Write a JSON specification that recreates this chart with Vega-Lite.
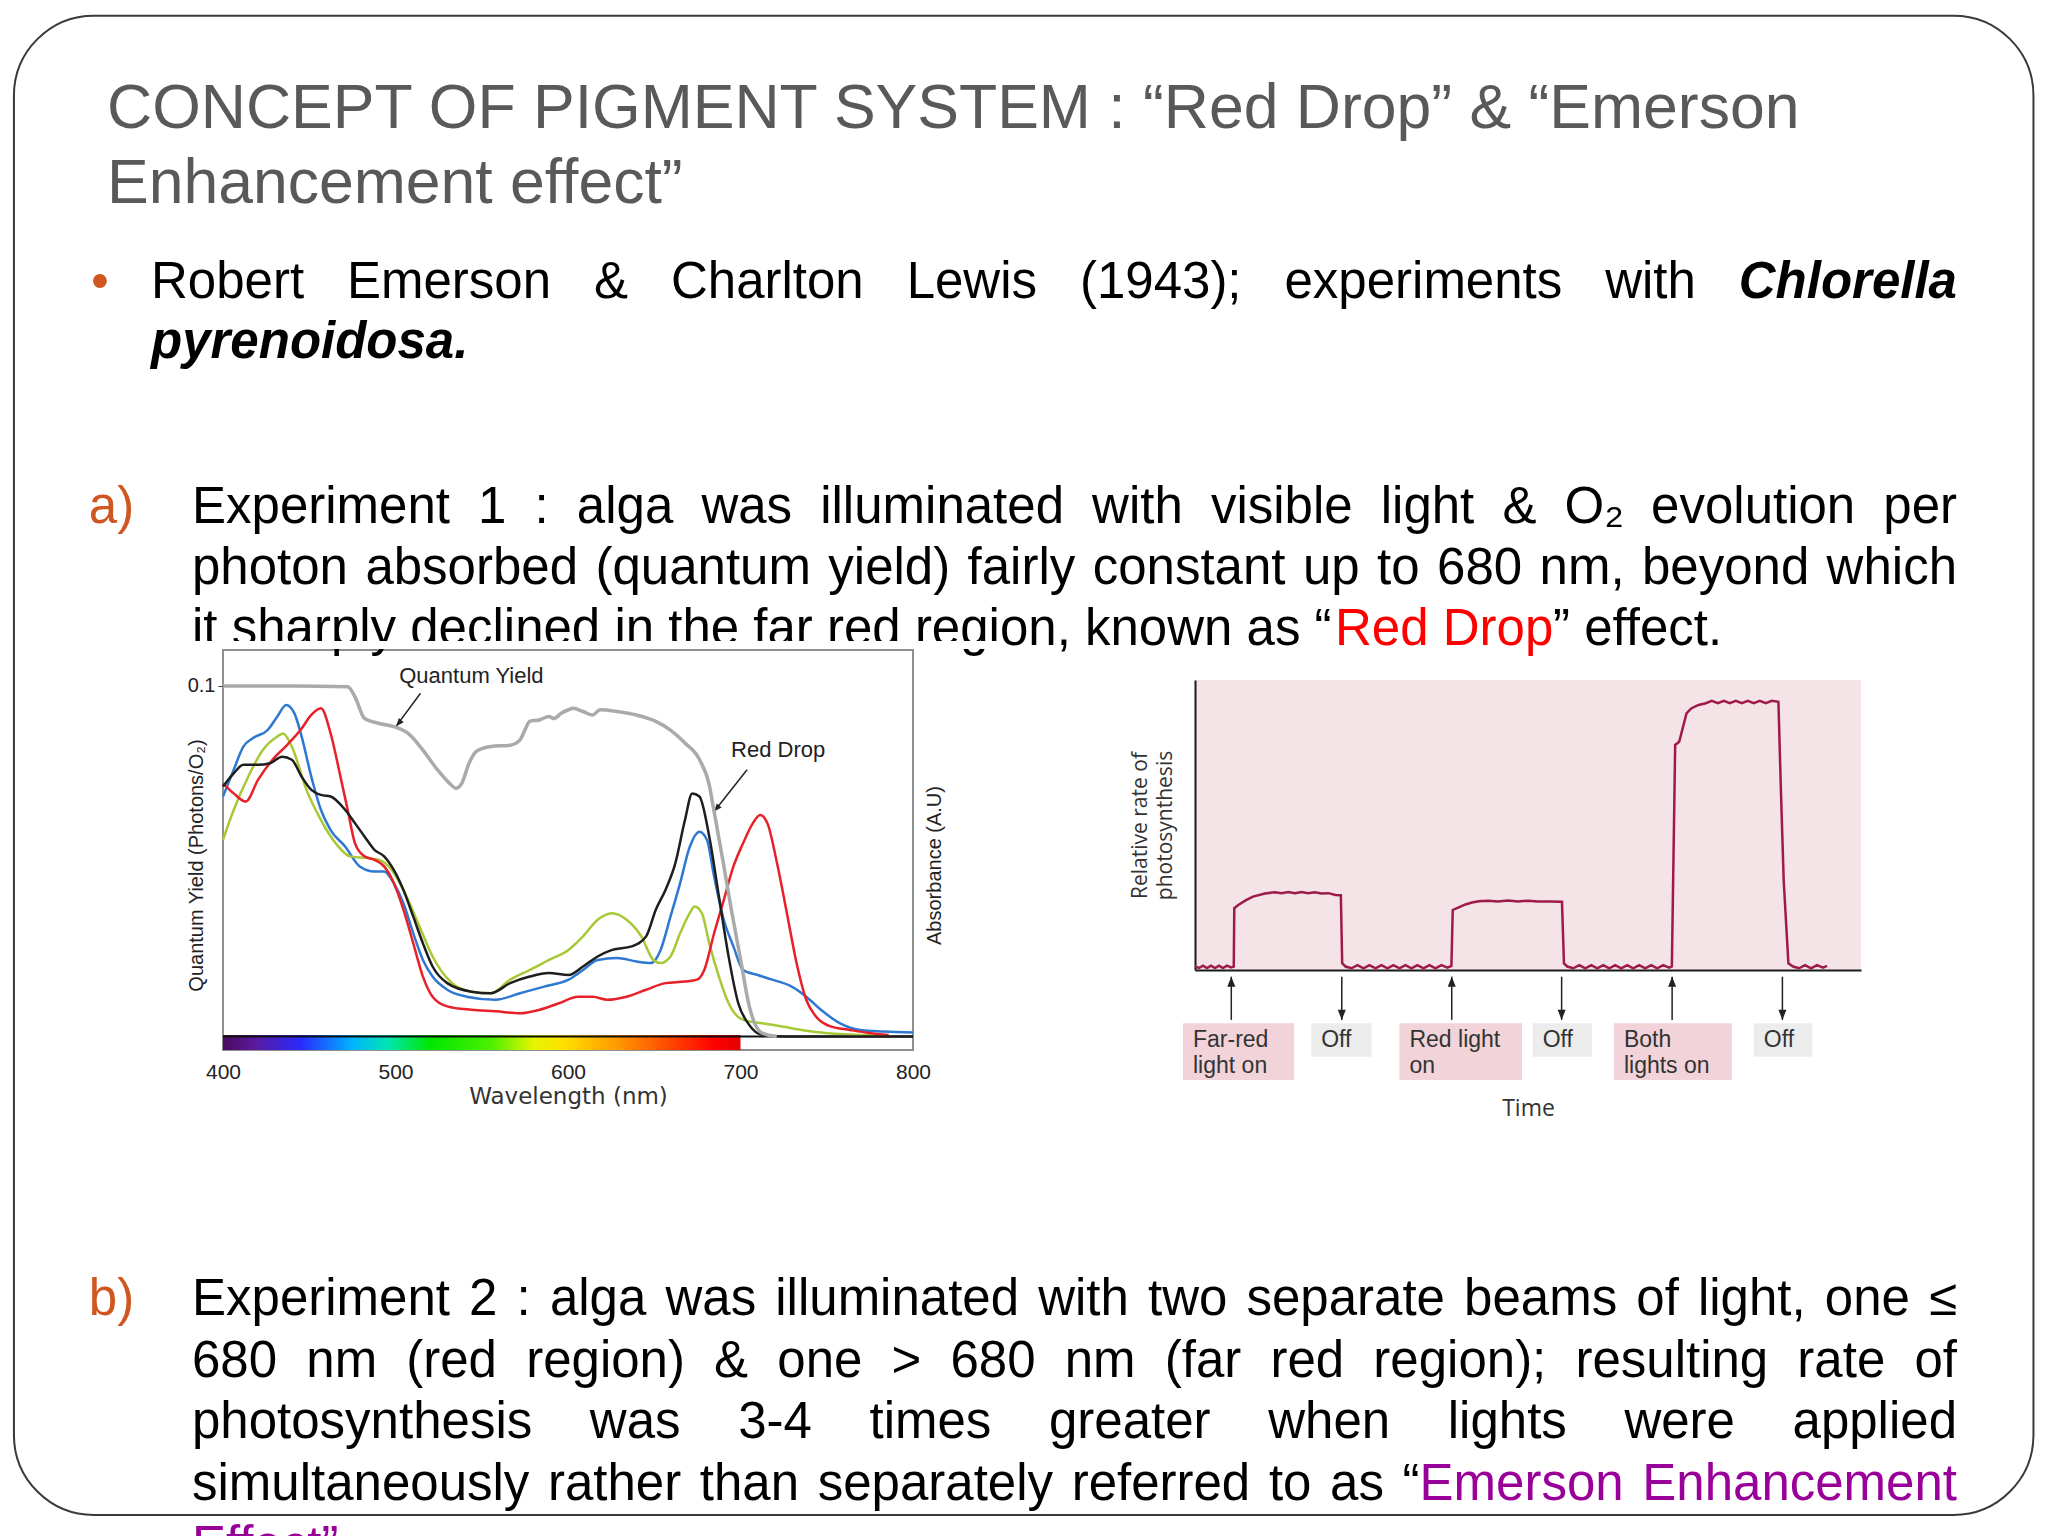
{
  "$schema": "https://vega.github.io/schema/vega-lite/v6.json",
  "background": "white",
  "padding": 0,
  "spacing": 0,
  "bounds": "flush",
  "resolve": {"scale": {"color": "independent"}},
  "config": {
    "view": {"stroke": null},
    "text": {"font": "Liberation Sans", "fontSize": 51, "baseline": "alphabetic"},
    "axis": {"grid": false}
  },
  "datasets": {
    "title": [
      {"line": 1, "pos": 0, "text": "CONCEPT OF PIGMENT SYSTEM : “Red Drop” & “Emerson"},
      {"line": 2, "pos": 0, "text": "Enhancement effect”"}
    ],
    "para": [
      {"line": 1, "pos": -0.02824, "anchor": "middle", "role": "bullet", "text": "•"},
      {"line": 1, "pos": 0, "anchor": "start", "role": "body", "text": "Robert"},
      {"line": 1, "pos": 0.10853, "anchor": "start", "role": "body", "text": "Emerson"},
      {"line": 1, "pos": 0.24529, "anchor": "start", "role": "body", "text": "&"},
      {"line": 1, "pos": 0.28791, "anchor": "start", "role": "body", "text": "Charlton"},
      {"line": 1, "pos": 0.41841, "anchor": "start", "role": "body", "text": "Lewis"},
      {"line": 1, "pos": 0.51437, "anchor": "start", "role": "body", "text": "(1943);"},
      {"line": 1, "pos": 0.62762, "anchor": "start", "role": "body", "text": "experiments"},
      {"line": 1, "pos": 0.80519, "anchor": "start", "role": "body", "text": "with"},
      {"line": 1, "pos": 1, "anchor": "end", "role": "species", "text": "Chlorella"},
      {"line": 2, "pos": 0, "anchor": "start", "role": "species", "text": "pyrenoidosa."}
    ],
    "expA": [
      {"line": 1, "pos": -0.05847, "anchor": "start", "role": "marker", "text": "a)"},
      {"line": 1, "pos": 0, "anchor": "start", "role": "body", "text": "Experiment"},
      {"line": 1, "pos": 0.16207, "anchor": "start", "role": "body", "text": "1"},
      {"line": 1, "pos": 0.19408, "anchor": "start", "role": "body", "text": ":"},
      {"line": 1, "pos": 0.21806, "anchor": "start", "role": "body", "text": "alga"},
      {"line": 1, "pos": 0.28861, "anchor": "start", "role": "body", "text": "was"},
      {"line": 1, "pos": 0.35593, "anchor": "start", "role": "body", "text": "illuminated"},
      {"line": 1, "pos": 0.50997, "anchor": "start", "role": "body", "text": "with"},
      {"line": 1, "pos": 0.57728, "anchor": "start", "role": "body", "text": "visible"},
      {"line": 1, "pos": 0.6735, "anchor": "start", "role": "body", "text": "light"},
      {"line": 1, "pos": 0.74244, "anchor": "start", "role": "body", "text": "&"},
      {"line": 1, "pos": 0.77765, "anchor": "start", "role": "body", "text": "O₂"},
      {"line": 1, "pos": 0.82668, "anchor": "start", "role": "body", "text": "evolution"},
      {"line": 1, "pos": 1, "anchor": "end", "role": "body", "text": "per"},
      {"line": 2, "pos": 0, "anchor": "start", "role": "body", "text": "photon"},
      {"line": 2, "pos": 0.09824, "anchor": "start", "role": "body", "text": "absorbed"},
      {"line": 2, "pos": 0.22859, "anchor": "start", "role": "body", "text": "(quantum"},
      {"line": 2, "pos": 0.36052, "anchor": "start", "role": "body", "text": "yield)"},
      {"line": 2, "pos": 0.43943, "anchor": "start", "role": "body", "text": "fairly"},
      {"line": 2, "pos": 0.51031, "anchor": "start", "role": "body", "text": "constant"},
      {"line": 2, "pos": 0.62942, "anchor": "start", "role": "body", "text": "up"},
      {"line": 2, "pos": 0.67143, "anchor": "start", "role": "body", "text": "to"},
      {"line": 2, "pos": 0.70541, "anchor": "start", "role": "body", "text": "680"},
      {"line": 2, "pos": 0.76348, "anchor": "start", "role": "body", "text": "nm,"},
      {"line": 2, "pos": 0.82153, "anchor": "start", "role": "body", "text": "beyond"},
      {"line": 2, "pos": 1, "anchor": "end", "role": "body", "text": "which"},
      {"line": 3, "pos": 0, "anchor": "start", "role": "body", "text": "it sharply declined in the far red region, known as “"},
      {"line": 3, "pos": 0.64759, "anchor": "start", "role": "red", "text": "Red Drop"},
      {"line": 3, "pos": 0.7711, "anchor": "start", "role": "body", "text": "” effect."}
    ],
    "expB": [
      {"line": 1, "pos": -0.05847, "anchor": "start", "role": "marker", "text": "b)"},
      {"line": 1, "pos": 0, "anchor": "start", "role": "body", "text": "Experiment"},
      {"line": 1, "pos": 0.15697, "anchor": "start", "role": "body", "text": "2"},
      {"line": 1, "pos": 0.18389, "anchor": "start", "role": "body", "text": ":"},
      {"line": 1, "pos": 0.20278, "anchor": "start", "role": "body", "text": "alga"},
      {"line": 1, "pos": 0.26824, "anchor": "start", "role": "body", "text": "was"},
      {"line": 1, "pos": 0.33047, "anchor": "start", "role": "body", "text": "illuminated"},
      {"line": 1, "pos": 0.47941, "anchor": "start", "role": "body", "text": "with"},
      {"line": 1, "pos": 0.54163, "anchor": "start", "role": "body", "text": "two"},
      {"line": 1, "pos": 0.59744, "anchor": "start", "role": "body", "text": "separate"},
      {"line": 1, "pos": 0.72073, "anchor": "start", "role": "body", "text": "beams"},
      {"line": 1, "pos": 0.81829, "anchor": "start", "role": "body", "text": "of"},
      {"line": 1, "pos": 0.85323, "anchor": "start", "role": "body", "text": "light,"},
      {"line": 1, "pos": 0.92511, "anchor": "start", "role": "body", "text": "one"},
      {"line": 1, "pos": 1, "anchor": "end", "role": "body", "text": "≤"},
      {"line": 2, "pos": 0, "anchor": "start", "role": "body", "text": "680"},
      {"line": 2, "pos": 0.06474, "anchor": "start", "role": "body", "text": "nm"},
      {"line": 2, "pos": 0.12141, "anchor": "start", "role": "body", "text": "(red"},
      {"line": 2, "pos": 0.18933, "anchor": "start", "role": "body", "text": "region)"},
      {"line": 2, "pos": 0.29578, "anchor": "start", "role": "body", "text": "&"},
      {"line": 2, "pos": 0.3316, "anchor": "start", "role": "body", "text": "one"},
      {"line": 2, "pos": 0.39634, "anchor": "start", "role": "body", "text": ">"},
      {"line": 2, "pos": 0.42975, "anchor": "start", "role": "body", "text": "680"},
      {"line": 2, "pos": 0.49448, "anchor": "start", "role": "body", "text": "nm"},
      {"line": 2, "pos": 0.55115, "anchor": "start", "role": "body", "text": "(far"},
      {"line": 2, "pos": 0.61104, "anchor": "start", "role": "body", "text": "red"},
      {"line": 2, "pos": 0.66933, "anchor": "start", "role": "body", "text": "region);"},
      {"line": 2, "pos": 0.78382, "anchor": "start", "role": "body", "text": "resulting"},
      {"line": 2, "pos": 0.90956, "anchor": "start", "role": "body", "text": "rate"},
      {"line": 2, "pos": 1, "anchor": "end", "role": "body", "text": "of"},
      {"line": 3, "pos": 0, "anchor": "start", "role": "body", "text": "photosynthesis"},
      {"line": 3, "pos": 0.22539, "anchor": "start", "role": "body", "text": "was"},
      {"line": 3, "pos": 0.30943, "anchor": "start", "role": "body", "text": "3-4"},
      {"line": 3, "pos": 0.38385, "anchor": "start", "role": "body", "text": "times"},
      {"line": 3, "pos": 0.48555, "anchor": "start", "role": "body", "text": "greater"},
      {"line": 3, "pos": 0.60975, "anchor": "start", "role": "body", "text": "when"},
      {"line": 3, "pos": 0.71147, "anchor": "start", "role": "body", "text": "lights"},
      {"line": 3, "pos": 0.81157, "anchor": "start", "role": "body", "text": "were"},
      {"line": 3, "pos": 1, "anchor": "end", "role": "body", "text": "applied"},
      {"line": 4, "pos": 0, "anchor": "start", "role": "body", "text": "simultaneously"},
      {"line": 4, "pos": 0.20166, "anchor": "start", "role": "body", "text": "rather"},
      {"line": 4, "pos": 0.28771, "anchor": "start", "role": "body", "text": "than"},
      {"line": 4, "pos": 0.35452, "anchor": "start", "role": "body", "text": "separately"},
      {"line": 4, "pos": 0.49839, "anchor": "start", "role": "body", "text": "referred"},
      {"line": 4, "pos": 0.61013, "anchor": "start", "role": "body", "text": "to"},
      {"line": 4, "pos": 0.6448, "anchor": "start", "role": "body", "text": "as"},
      {"line": 4, "pos": 0.6859, "anchor": "start", "role": "body", "text": "“"},
      {"line": 4, "pos": 0.69552, "anchor": "start", "role": "term", "text": "Emerson"},
      {"line": 4, "pos": 1, "anchor": "end", "role": "term", "text": "Enhancement"},
      {"line": 5, "pos": 0, "anchor": "start", "role": "term", "text": "Effect”"}
    ],
    "quantumYield": [
      {"nm": 400, "qy": 0.1}, {"nm": 440, "qy": 0.1}, {"nm": 472.3, "qy": 0.0998}, {"nm": 476.5, "qy": 0.0969},
      {"nm": 482.1, "qy": 0.0907}, {"nm": 490.6, "qy": 0.0893}, {"nm": 499, "qy": 0.0884}, {"nm": 507.5, "qy": 0.0864},
      {"nm": 515.9, "qy": 0.0817}, {"nm": 524.3, "qy": 0.0761}, {"nm": 531.4, "qy": 0.0722}, {"nm": 535, "qy": 0.0708},
      {"nm": 538.4, "qy": 0.0722}, {"nm": 542.6, "qy": 0.0779}, {"nm": 546.8, "qy": 0.0813}, {"nm": 555.3, "qy": 0.0827},
      {"nm": 566.5, "qy": 0.0831}, {"nm": 572.2, "qy": 0.0846}, {"nm": 575, "qy": 0.0874}, {"nm": 577.8, "qy": 0.0899},
      {"nm": 583.4, "qy": 0.0903}, {"nm": 589, "qy": 0.0913}, {"nm": 591.8, "qy": 0.0907}, {"nm": 596.1, "qy": 0.0922},
      {"nm": 600.3, "qy": 0.0932}, {"nm": 603.1, "qy": 0.0936}, {"nm": 608.7, "qy": 0.0927}, {"nm": 614.3, "qy": 0.0917},
      {"nm": 618.6, "qy": 0.0932}, {"nm": 628.4, "qy": 0.0927}, {"nm": 639.7, "qy": 0.0917}, {"nm": 650.9, "qy": 0.0899},
      {"nm": 659.4, "qy": 0.0874}, {"nm": 667.8, "qy": 0.0837}, {"nm": 676.2, "qy": 0.079}, {"nm": 681.9, "qy": 0.0717},
      {"nm": 684.4, "qy": 0.065}, {"nm": 690, "qy": 0.0496}, {"nm": 695, "qy": 0.0353}, {"nm": 700, "qy": 0.0221},
      {"nm": 705, "qy": 0.0088}, {"nm": 712, "qy": 0.0011}, {"nm": 721, "qy": 0}
    ],
    "absorbance": [
      {"series": "blue", "nm": 400, "abs": 0.621}, {"series": "blue", "nm": 406.2, "abs": 0.69}, {"series": "blue", "nm": 411.8, "abs": 0.75},
      {"series": "blue", "nm": 417.4, "abs": 0.772}, {"series": "blue", "nm": 425.9, "abs": 0.793}, {"series": "blue", "nm": 431.5, "abs": 0.828},
      {"series": "blue", "nm": 436.6, "abs": 0.858}, {"series": "blue", "nm": 441.4, "abs": 0.836}, {"series": "blue", "nm": 445.6, "abs": 0.776},
      {"series": "blue", "nm": 451.2, "abs": 0.672}, {"series": "blue", "nm": 456.8, "abs": 0.586}, {"series": "blue", "nm": 462.4, "abs": 0.534},
      {"series": "blue", "nm": 470.9, "abs": 0.491}, {"series": "blue", "nm": 479.3, "abs": 0.44}, {"series": "blue", "nm": 487.8, "abs": 0.427},
      {"series": "blue", "nm": 493.4, "abs": 0.427}, {"series": "blue", "nm": 499, "abs": 0.397}, {"series": "blue", "nm": 504.6, "abs": 0.345},
      {"series": "blue", "nm": 510.3, "abs": 0.267}, {"series": "blue", "nm": 515.9, "abs": 0.198}, {"series": "blue", "nm": 521.5, "abs": 0.155},
      {"series": "blue", "nm": 530, "abs": 0.121}, {"series": "blue", "nm": 541.2, "abs": 0.103}, {"series": "blue", "nm": 558.1, "abs": 0.095},
      {"series": "blue", "nm": 572.2, "abs": 0.112}, {"series": "blue", "nm": 586.2, "abs": 0.129}, {"series": "blue", "nm": 600.3, "abs": 0.147},
      {"series": "blue", "nm": 608.7, "abs": 0.172}, {"series": "blue", "nm": 617.2, "abs": 0.198}, {"series": "blue", "nm": 628.4, "abs": 0.203},
      {"series": "blue", "nm": 639.7, "abs": 0.194}, {"series": "blue", "nm": 648.1, "abs": 0.19}, {"series": "blue", "nm": 653.7, "abs": 0.224},
      {"series": "blue", "nm": 659.4, "abs": 0.31}, {"series": "blue", "nm": 665, "abs": 0.397}, {"series": "blue", "nm": 670.6, "abs": 0.491},
      {"series": "blue", "nm": 676.2, "abs": 0.53}, {"series": "blue", "nm": 680.5, "abs": 0.509}, {"series": "blue", "nm": 684.7, "abs": 0.414},
      {"series": "blue", "nm": 690.3, "abs": 0.302}, {"series": "blue", "nm": 695.9, "abs": 0.233}, {"series": "blue", "nm": 701.5, "abs": 0.172},
      {"series": "blue", "nm": 710, "abs": 0.159}, {"series": "blue", "nm": 718.4, "abs": 0.147}, {"series": "blue", "nm": 729.7, "abs": 0.129},
      {"series": "blue", "nm": 738.1, "abs": 0.103}, {"series": "blue", "nm": 746.6, "abs": 0.069}, {"series": "blue", "nm": 757.8, "abs": 0.034},
      {"series": "blue", "nm": 769.1, "abs": 0.017}, {"series": "blue", "nm": 783.1, "abs": 0.013}, {"series": "blue", "nm": 800, "abs": 0.01},

      {"series": "yellow-green", "nm": 400, "abs": 0.509}, {"series": "yellow-green", "nm": 406.2, "abs": 0.586}, {"series": "yellow-green", "nm": 414.6, "abs": 0.672},
      {"series": "yellow-green", "nm": 423.1, "abs": 0.741}, {"series": "yellow-green", "nm": 431.5, "abs": 0.776}, {"series": "yellow-green", "nm": 434.9, "abs": 0.784},
      {"series": "yellow-green", "nm": 439.9, "abs": 0.75}, {"series": "yellow-green", "nm": 448.4, "abs": 0.638}, {"series": "yellow-green", "nm": 456.8, "abs": 0.56},
      {"series": "yellow-green", "nm": 465.3, "abs": 0.5}, {"series": "yellow-green", "nm": 473.7, "abs": 0.466}, {"series": "yellow-green", "nm": 485, "abs": 0.461},
      {"series": "yellow-green", "nm": 490.6, "abs": 0.457}, {"series": "yellow-green", "nm": 496.2, "abs": 0.44}, {"series": "yellow-green", "nm": 504.6, "abs": 0.379},
      {"series": "yellow-green", "nm": 513.1, "abs": 0.293}, {"series": "yellow-green", "nm": 521.5, "abs": 0.207}, {"series": "yellow-green", "nm": 532.8, "abs": 0.138},
      {"series": "yellow-green", "nm": 544, "abs": 0.116}, {"series": "yellow-green", "nm": 555.3, "abs": 0.112}, {"series": "yellow-green", "nm": 566.5, "abs": 0.147},
      {"series": "yellow-green", "nm": 577.8, "abs": 0.172}, {"series": "yellow-green", "nm": 589, "abs": 0.198}, {"series": "yellow-green", "nm": 600.3, "abs": 0.224},
      {"series": "yellow-green", "nm": 608.7, "abs": 0.259}, {"series": "yellow-green", "nm": 617.2, "abs": 0.302}, {"series": "yellow-green", "nm": 625.6, "abs": 0.319},
      {"series": "yellow-green", "nm": 634, "abs": 0.302}, {"series": "yellow-green", "nm": 642.5, "abs": 0.259}, {"series": "yellow-green", "nm": 649.5, "abs": 0.198},
      {"series": "yellow-green", "nm": 653.7, "abs": 0.19}, {"series": "yellow-green", "nm": 659.4, "abs": 0.207}, {"series": "yellow-green", "nm": 665, "abs": 0.267},
      {"series": "yellow-green", "nm": 670.6, "abs": 0.319}, {"series": "yellow-green", "nm": 673.4, "abs": 0.336}, {"series": "yellow-green", "nm": 677.6, "abs": 0.319},
      {"series": "yellow-green", "nm": 681.9, "abs": 0.241}, {"series": "yellow-green", "nm": 687.5, "abs": 0.155}, {"series": "yellow-green", "nm": 693.1, "abs": 0.086},
      {"series": "yellow-green", "nm": 701.5, "abs": 0.043}, {"series": "yellow-green", "nm": 712.8, "abs": 0.034}, {"series": "yellow-green", "nm": 724.1, "abs": 0.026},
      {"series": "yellow-green", "nm": 735.3, "abs": 0.017}, {"series": "yellow-green", "nm": 749.4, "abs": 0.009}, {"series": "yellow-green", "nm": 769.1, "abs": 0.004},
      {"series": "yellow-green", "nm": 783.1, "abs": 0.002},

      {"series": "red", "nm": 400, "abs": 0.655}, {"series": "red", "nm": 406.2, "abs": 0.629}, {"series": "red", "nm": 413.2, "abs": 0.608},
      {"series": "red", "nm": 420.3, "abs": 0.664}, {"series": "red", "nm": 428.7, "abs": 0.716}, {"series": "red", "nm": 437.1, "abs": 0.754},
      {"series": "red", "nm": 445.6, "abs": 0.797}, {"series": "red", "nm": 451.2, "abs": 0.832}, {"series": "red", "nm": 456.8, "abs": 0.849},
      {"series": "red", "nm": 462.4, "abs": 0.784}, {"series": "red", "nm": 468.1, "abs": 0.672}, {"series": "red", "nm": 472.3, "abs": 0.586},
      {"series": "red", "nm": 476.5, "abs": 0.5}, {"series": "red", "nm": 482.1, "abs": 0.466}, {"series": "red", "nm": 487.8, "abs": 0.457},
      {"series": "red", "nm": 493.4, "abs": 0.44}, {"series": "red", "nm": 499, "abs": 0.397}, {"series": "red", "nm": 504.6, "abs": 0.328},
      {"series": "red", "nm": 510.3, "abs": 0.241}, {"series": "red", "nm": 515.9, "abs": 0.155}, {"series": "red", "nm": 521.5, "abs": 0.103},
      {"series": "red", "nm": 530, "abs": 0.078}, {"series": "red", "nm": 544, "abs": 0.069}, {"series": "red", "nm": 558.1, "abs": 0.065},
      {"series": "red", "nm": 572.2, "abs": 0.06}, {"series": "red", "nm": 583.4, "abs": 0.069}, {"series": "red", "nm": 594.7, "abs": 0.086},
      {"series": "red", "nm": 605.9, "abs": 0.103}, {"series": "red", "nm": 614.3, "abs": 0.103}, {"series": "red", "nm": 622.8, "abs": 0.095},
      {"series": "red", "nm": 634, "abs": 0.103}, {"series": "red", "nm": 645.3, "abs": 0.121}, {"series": "red", "nm": 656.5, "abs": 0.138},
      {"series": "red", "nm": 667.8, "abs": 0.142}, {"series": "red", "nm": 674.8, "abs": 0.147}, {"series": "red", "nm": 679, "abs": 0.172},
      {"series": "red", "nm": 684.7, "abs": 0.267}, {"series": "red", "nm": 690.3, "abs": 0.353}, {"series": "red", "nm": 695.9, "abs": 0.44},
      {"series": "red", "nm": 701.5, "abs": 0.5}, {"series": "red", "nm": 707.2, "abs": 0.552}, {"series": "red", "nm": 711.4, "abs": 0.573},
      {"series": "red", "nm": 715.6, "abs": 0.552}, {"series": "red", "nm": 721.2, "abs": 0.448}, {"series": "red", "nm": 726.9, "abs": 0.319},
      {"series": "red", "nm": 732.5, "abs": 0.19}, {"series": "red", "nm": 738.1, "abs": 0.095}, {"series": "red", "nm": 743.7, "abs": 0.052},
      {"series": "red", "nm": 752.2, "abs": 0.026}, {"series": "red", "nm": 763.4, "abs": 0.017}, {"series": "red", "nm": 774.7, "abs": 0.009},
      {"series": "red", "nm": 785.9, "abs": 0.004},

      {"series": "black", "nm": 400, "abs": 0.647}, {"series": "black", "nm": 406.2, "abs": 0.681}, {"series": "black", "nm": 411.8, "abs": 0.703},
      {"series": "black", "nm": 420.3, "abs": 0.703}, {"series": "black", "nm": 427.3, "abs": 0.707}, {"series": "black", "nm": 434.3, "abs": 0.724},
      {"series": "black", "nm": 439.9, "abs": 0.716}, {"series": "black", "nm": 445.6, "abs": 0.672}, {"series": "black", "nm": 451.2, "abs": 0.638},
      {"series": "black", "nm": 456.8, "abs": 0.625}, {"series": "black", "nm": 462.4, "abs": 0.621}, {"series": "black", "nm": 470.9, "abs": 0.586},
      {"series": "black", "nm": 476.5, "abs": 0.552}, {"series": "black", "nm": 482.1, "abs": 0.517}, {"series": "black", "nm": 487.8, "abs": 0.483},
      {"series": "black", "nm": 493.4, "abs": 0.466}, {"series": "black", "nm": 499, "abs": 0.431}, {"series": "black", "nm": 504.6, "abs": 0.379},
      {"series": "black", "nm": 510.3, "abs": 0.31}, {"series": "black", "nm": 515.9, "abs": 0.241}, {"series": "black", "nm": 521.5, "abs": 0.181},
      {"series": "black", "nm": 530, "abs": 0.138}, {"series": "black", "nm": 544, "abs": 0.116}, {"series": "black", "nm": 555.3, "abs": 0.112},
      {"series": "black", "nm": 566.5, "abs": 0.138}, {"series": "black", "nm": 577.8, "abs": 0.155}, {"series": "black", "nm": 589, "abs": 0.164},
      {"series": "black", "nm": 600.3, "abs": 0.159}, {"series": "black", "nm": 608.7, "abs": 0.181}, {"series": "black", "nm": 617.2, "abs": 0.207},
      {"series": "black", "nm": 625.6, "abs": 0.224}, {"series": "black", "nm": 636.9, "abs": 0.233}, {"series": "black", "nm": 645.3, "abs": 0.259},
      {"series": "black", "nm": 650.9, "abs": 0.328}, {"series": "black", "nm": 656.5, "abs": 0.379}, {"series": "black", "nm": 662.2, "abs": 0.448},
      {"series": "black", "nm": 667.8, "abs": 0.56}, {"series": "black", "nm": 672, "abs": 0.629}, {"series": "black", "nm": 676.2, "abs": 0.621},
      {"series": "black", "nm": 681.9, "abs": 0.517}, {"series": "black", "nm": 687.5, "abs": 0.362}, {"series": "black", "nm": 693.1, "abs": 0.207},
      {"series": "black", "nm": 698.7, "abs": 0.086}, {"series": "black", "nm": 704.4, "abs": 0.034}, {"series": "black", "nm": 712.8, "abs": 0.004},
      {"series": "black", "nm": 726.9, "abs": 0}, {"series": "black", "nm": 800, "abs": 0}
    ],
    "annotations": [
      {"label": "Quantum Yield", "nm": 544, "abs": 0.914, "fromNm": 514.5, "fromAbs": 0.888, "toNm": 500.4, "toAbs": 0.803},
      {"label": "Red Drop", "nm": 721.8, "abs": 0.724, "fromNm": 703.8, "fromAbs": 0.69, "toNm": 684.7, "toAbs": 0.582}
    ],
    "rate": [
      {"t": 0, "rate": 1.2}, {"t": 0.6, "rate": 0.7}, {"t": 1.2, "rate": 1.5}, {"t": 1.8, "rate": 0.7}, {"t": 2.4, "rate": 1.5},
      {"t": 3.0, "rate": 0.7}, {"t": 3.6, "rate": 1.5}, {"t": 4.2, "rate": 0.7}, {"t": 4.8, "rate": 1.5}, {"t": 5.4, "rate": 0.9},
      {"t": 5.82, "rate": 1.2}, {"t": 5.9, "rate": 21.3}, {"t": 6.5, "rate": 22.4}, {"t": 7.6, "rate": 24.0}, {"t": 8.7, "rate": 25.3},
      {"t": 10.5, "rate": 26.4}, {"t": 12, "rate": 26.8}, {"t": 13, "rate": 26.5}, {"t": 14, "rate": 26.9}, {"t": 15, "rate": 26.5},
      {"t": 16, "rate": 26.9}, {"t": 17, "rate": 26.5}, {"t": 18, "rate": 26.8}, {"t": 19, "rate": 26.4}, {"t": 20, "rate": 26.5},
      {"t": 21.1, "rate": 25.9}, {"t": 21.9, "rate": 25.8}, {"t": 22.1, "rate": 2.3}, {"t": 22.6, "rate": 1.2},
      {"t": 23.5, "rate": 0.6}, {"t": 24.4, "rate": 1.7}, {"t": 25.3, "rate": 0.6}, {"t": 26.2, "rate": 1.7}, {"t": 27.1, "rate": 0.6},
      {"t": 28.0, "rate": 1.7}, {"t": 28.9, "rate": 0.6}, {"t": 29.8, "rate": 1.7}, {"t": 30.7, "rate": 0.6}, {"t": 31.6, "rate": 1.7},
      {"t": 32.5, "rate": 0.6}, {"t": 33.4, "rate": 1.7}, {"t": 34.3, "rate": 0.6}, {"t": 35.2, "rate": 1.7}, {"t": 36.1, "rate": 0.6},
      {"t": 37.0, "rate": 1.7}, {"t": 37.9, "rate": 0.8}, {"t": 38.5, "rate": 1.4},
      {"t": 38.7, "rate": 20.7}, {"t": 39.6, "rate": 21.6}, {"t": 40.6, "rate": 22.6}, {"t": 41.6, "rate": 23.3}, {"t": 42.6, "rate": 23.7},
      {"t": 44, "rate": 23.9}, {"t": 45.5, "rate": 23.6}, {"t": 47, "rate": 24.0}, {"t": 48.5, "rate": 23.6}, {"t": 50, "rate": 23.9},
      {"t": 51.5, "rate": 23.6}, {"t": 53, "rate": 23.6}, {"t": 55.1, "rate": 23.5}, {"t": 55.4, "rate": 2.3}, {"t": 55.9, "rate": 1.2},
      {"t": 56.8, "rate": 0.6}, {"t": 57.7, "rate": 1.7}, {"t": 58.6, "rate": 0.6}, {"t": 59.5, "rate": 1.7}, {"t": 60.4, "rate": 0.6},
      {"t": 61.3, "rate": 1.7}, {"t": 62.2, "rate": 0.6}, {"t": 63.1, "rate": 1.7}, {"t": 64.0, "rate": 0.6}, {"t": 64.9, "rate": 1.7},
      {"t": 65.8, "rate": 0.6}, {"t": 66.7, "rate": 1.7}, {"t": 67.6, "rate": 0.6}, {"t": 68.5, "rate": 1.7}, {"t": 69.4, "rate": 0.6},
      {"t": 70.3, "rate": 1.7}, {"t": 71.2, "rate": 0.8}, {"t": 71.6, "rate": 1.2},
      {"t": 72.1, "rate": 77.6}, {"t": 72.7, "rate": 78.7}, {"t": 73.8, "rate": 88.5}, {"t": 74.5, "rate": 90.2}, {"t": 75.6, "rate": 91.4},
      {"t": 76.7, "rate": 92.0}, {"t": 77.6, "rate": 92.8}, {"t": 78.5, "rate": 92.0}, {"t": 79.4, "rate": 92.8}, {"t": 80.3, "rate": 92.0},
      {"t": 81.2, "rate": 92.8}, {"t": 82.1, "rate": 92.0}, {"t": 83.0, "rate": 92.8}, {"t": 83.9, "rate": 92.0}, {"t": 84.8, "rate": 92.8},
      {"t": 85.7, "rate": 92.0}, {"t": 86.6, "rate": 92.8}, {"t": 87.6, "rate": 92.5}, {"t": 88.0, "rate": 60}, {"t": 88.4, "rate": 30.5},
      {"t": 89.1, "rate": 2.3}, {"t": 89.8, "rate": 1.2}, {"t": 90.7, "rate": 0.6}, {"t": 91.6, "rate": 1.7}, {"t": 92.5, "rate": 0.6},
      {"t": 93.4, "rate": 1.7}, {"t": 94.3, "rate": 0.8}, {"t": 94.9, "rate": 1.4}
    ],
    "events": [
      {"event": "Far-red light on", "label": "Far-red\nlight on", "kind": "on", "arrow": 5.45, "start": -1.8, "end": 14.9},
      {"event": "Off", "label": "Off", "kind": "off", "arrow": 22.04, "start": 17.45, "end": 26.5},
      {"event": "Red light on", "label": "Red light\non", "kind": "on", "arrow": 38.55, "start": 30.7, "end": 49.1},
      {"event": "Off", "label": "Off", "kind": "off", "arrow": 55.05, "start": 50.7, "end": 59.6},
      {"event": "Both lights on", "label": "Both\nlights on", "kind": "on", "arrow": 71.64, "start": 62.9, "end": 80.6},
      {"event": "Off", "label": "Off", "kind": "off", "arrow": 88.2, "start": 83.9, "end": 92.7}
    ]
  },
  "vconcat": [
    {
      "spacing": 0,
      "bounds": "flush",
      "resolve": {"scale": {"color": "independent"}},
      "vconcat": [
        {"width": 2048, "height": 650, "data": {"values": []}, "mark": "point"},
        {
          "spacing": 0,
          "bounds": "flush",
          "resolve": {"scale": {"color": "independent"}},
          "hconcat": [
            {"width": 223, "height": 400, "data": {"values": []}, "mark": "point"},
            {
              "width": 690,
              "height": 400,
              "view": {"stroke": "#8f8f8f", "strokeWidth": 2, "fill": "white"},
              "layer": [
                {
                  "layer": [
                    {
                      "data": {"values": [{"band": "visible spectrum", "start": 400, "end": 700}]},
                      "mark": {"type": "rect", "fill": {"gradient": "linear", "x1": 0, "y1": 0, "x2": 1, "y2": 0, "stops": [
                        {"offset": 0, "color": "#4b0a5e"}, {"offset": 0.06, "color": "#5a1a9c"}, {"offset": 0.15, "color": "#2a2aff"},
                        {"offset": 0.25, "color": "#00b4ff"}, {"offset": 0.32, "color": "#00e6b0"}, {"offset": 0.4, "color": "#00e600"},
                        {"offset": 0.52, "color": "#4ef000"}, {"offset": 0.6, "color": "#e6f500"}, {"offset": 0.66, "color": "#ffe000"},
                        {"offset": 0.76, "color": "#ff9a00"}, {"offset": 0.86, "color": "#ff4a00"}, {"offset": 0.95, "color": "#ff0000"},
                        {"offset": 1, "color": "#e60000"}]}},
                      "encoding": {
                        "x": {"field": "start", "type": "quantitative", "scale": {"domain": [400, 800], "nice": false, "zero": false},
                          "axis": {"values": [400, 500, 600, 700, 800], "ticks": false, "domain": false, "labelFlush": false, "labelFont": "Liberation Sans", "labelFontSize": 21, "labelColor": "#222222", "labelPadding": 11,
                            "title": "Wavelength (nm)", "titleFont": "DejaVu Sans", "titleFontSize": 23, "titleFontWeight": "normal", "titleColor": "#333333", "titlePadding": 3}},
                        "x2": {"field": "end"},
                        "y": {"datum": 0.004, "type": "quantitative", "scale": {"domain": [-0.035, 1], "nice": false, "zero": false},
                          "axis": {"orient": "right", "labels": false, "ticks": false, "domain": false, "title": "Absorbance (A.U)", "titleFont": "Liberation Sans", "titleFontSize": 20, "titleFontWeight": "normal", "titleColor": "#222222", "titleAngle": -90, "titleX": 31, "titleY": 215}},
                        "y2": {"datum": -0.035}
                      }
                    },
                    {
                      "data": {"values": [{"line": "baseline"}]},
                      "mark": {"type": "rule", "color": "#111111", "strokeWidth": 2},
                      "encoding": {
                        "x": {"datum": 400, "type": "quantitative"},
                        "x2": {"datum": 800},
                        "y": {"datum": 0, "type": "quantitative"}
                      }
                    },
                    {
                      "data": {"name": "absorbance"},
                      "mark": {"type": "line", "strokeWidth": 2.5, "interpolate": "monotone"},
                      "encoding": {
                        "x": {"field": "nm", "type": "quantitative"},
                        "y": {"field": "abs", "type": "quantitative"},
                        "color": {"field": "series", "type": "nominal", "scale": {"domain": ["blue", "yellow-green", "red", "black"], "range": ["#2e78d2", "#a6c935", "#e8202a", "#1e1e1e"]}, "legend": null},
                        "detail": {"field": "series"}
                      }
                    },
                    {
                      "data": {"name": "annotations"},
                      "mark": {"type": "rule", "color": "#222222", "strokeWidth": 1.5},
                      "encoding": {
                        "x": {"field": "fromNm", "type": "quantitative"},
                        "y": {"field": "fromAbs", "type": "quantitative"},
                        "x2": {"field": "toNm"},
                        "y2": {"field": "toAbs"}
                      }
                    },
                    {
                      "data": {"name": "annotations"},
                      "mark": {"type": "point", "shape": "M0,0L-0.6,1.5L0.6,1.5Z", "filled": true, "size": 110, "angle": 220, "color": "#222222", "opacity": 1},
                      "encoding": {
                        "x": {"field": "toNm", "type": "quantitative"},
                        "y": {"field": "toAbs", "type": "quantitative"}
                      }
                    },
                    {
                      "data": {"name": "annotations"},
                      "mark": {"type": "text", "align": "center", "baseline": "alphabetic", "font": "Liberation Sans", "fontSize": 22, "color": "#222222"},
                      "encoding": {
                        "x": {"field": "nm", "type": "quantitative"},
                        "y": {"field": "abs", "type": "quantitative"},
                        "text": {"field": "label"}
                      }
                    }
                  ]
                },
                {
                  "data": {"name": "quantumYield"},
                  "mark": {"type": "line", "color": "#aaaaaa", "strokeWidth": 3.5, "interpolate": "monotone"},
                  "encoding": {
                    "x": {"field": "nm", "type": "quantitative"},
                    "y": {"field": "qy", "type": "quantitative", "scale": {"domain": [-0.00386, 0.11025], "nice": false, "zero": false},
                      "axis": {"orient": "left", "values": [0.1], "format": ".1f", "domain": false, "ticks": true, "tickSize": 5, "tickColor": "#444444",
                        "labelFont": "Liberation Sans", "labelFontSize": 20, "labelColor": "#222222", "labelPadding": 3,
                        "title": "Quantum Yield (Photons/O₂)", "titleFont": "Liberation Sans", "titleFontSize": 20, "titleFontWeight": "normal", "titleColor": "#222222", "titleX": -17, "titleY": 215}}
                  }
                }
              ],
              "resolve": {"scale": {"y": "independent"}, "axis": {"y": "independent"}}
            },
            {"width": 282, "height": 400, "data": {"values": []}, "mark": "point"},
            {
              "spacing": 0,
              "bounds": "flush",
              "vconcat": [
                {"width": 666, "height": 30, "data": {"values": []}, "mark": "point"},
                {
                  "width": 666,
                  "height": 290,
                  "view": {"fill": "#f4e4e7", "stroke": null},
                  "layer": [
                    {
                      "data": {"name": "rate"},
                      "mark": {"type": "line", "color": "#9e1b47", "strokeWidth": 2.5},
                      "encoding": {
                        "x": {"field": "t", "type": "quantitative", "scale": {"domain": [0, 100], "nice": false, "zero": false},
                          "axis": {"domain": true, "domainColor": "#1a1a1a", "domainWidth": 2, "ticks": false, "labels": false, "title": "Time", "titleFont": "Open Sans", "titleFontSize": 23, "titleFontWeight": "normal", "titleColor": "#333333", "titlePadding": 127}},
                        "y": {"field": "rate", "type": "quantitative", "scale": {"domain": [0, 100], "nice": false, "zero": false},
                          "axis": {"domain": true, "domainColor": "#1a1a1a", "domainWidth": 2, "ticks": false, "labels": false, "title": ["Relative rate of", "photosynthesis"], "titleFont": "Open Sans", "titleFontSize": 21, "titleFontWeight": "normal", "titleColor": "#333333", "titlePadding": 20, "titleLineHeight": 25}}
                      }
                    },
                    {
                      "data": {"name": "events"},
                      "transform": [{"filter": "datum.kind == 'on'"}],
                      "mark": {"type": "rect", "color": "#f1d3d9"},
                      "encoding": {
                        "x": {"field": "start", "type": "quantitative"},
                        "x2": {"field": "end"},
                        "y": {"datum": -18.4, "type": "quantitative"},
                        "y2": {"datum": -37.9}
                      }
                    },
                    {
                      "data": {"name": "events"},
                      "transform": [{"filter": "datum.kind == 'off'"}],
                      "mark": {"type": "rect", "color": "#ececec"},
                      "encoding": {
                        "x": {"field": "start", "type": "quantitative"},
                        "x2": {"field": "end"},
                        "y": {"datum": -18.4, "type": "quantitative"},
                        "y2": {"datum": -29.9}
                      }
                    },
                    {
                      "data": {"name": "events"},
                      "mark": {"type": "text", "align": "left", "baseline": "alphabetic", "dx": 10, "font": "Liberation Sans", "fontSize": 23, "lineBreak": "\n", "lineHeight": 26, "color": "#333333"},
                      "encoding": {
                        "x": {"field": "start", "type": "quantitative"},
                        "y": {"datum": -26.4, "type": "quantitative"},
                        "text": {"field": "label"}
                      }
                    },
                    {
                      "data": {"name": "events"},
                      "mark": {"type": "rule", "color": "#222222", "strokeWidth": 1.5},
                      "encoding": {
                        "x": {"field": "arrow", "type": "quantitative"},
                        "y": {"datum": -17.2, "type": "quantitative"},
                        "y2": {"datum": -2.3}
                      }
                    },
                    {
                      "data": {"name": "events"},
                      "transform": [{"filter": "datum.kind == 'on'"}],
                      "mark": {"type": "point", "shape": "M0,0L-0.6,1.5L0.6,1.5Z", "filled": true, "size": 180, "angle": 0, "color": "#222222", "opacity": 1},
                      "encoding": {
                        "x": {"field": "arrow", "type": "quantitative"},
                        "y": {"datum": -2.3, "type": "quantitative"}
                      }
                    },
                    {
                      "data": {"name": "events"},
                      "transform": [{"filter": "datum.kind == 'off'"}],
                      "mark": {"type": "point", "shape": "M0,0L-0.6,1.5L0.6,1.5Z", "filled": true, "size": 180, "angle": 180, "color": "#222222", "opacity": 1},
                      "encoding": {
                        "x": {"field": "arrow", "type": "quantitative"},
                        "y": {"datum": -17.2, "type": "quantitative"}
                      }
                    }
                  ]
                }
              ]
            }
          ]
        }
      ]
    },
    {
      "width": 2048,
      "height": 1536,
      "layer": [
        {
          "data": {"values": [{"shape": "slide"}]},
          "mark": {"type": "rect", "fill": "transparent", "stroke": "#3a3a3a", "strokeWidth": 2, "cornerRadius": 80},
          "encoding": {
            "x": {"datum": 0.0068, "type": "quantitative", "scale": {"domain": [0, 1], "nice": false, "zero": false}, "axis": null},
            "x2": {"datum": 0.9929},
            "y": {"datum": 0.0102, "type": "quantitative", "scale": {"domain": [0, 1], "reverse": true, "nice": false, "zero": false}, "axis": null},
            "y2": {"datum": 0.9863}
          }
        },
        {
          "data": {"name": "title"},
          "mark": {"type": "text", "align": "left", "fontSize": 62.5, "color": "#595959"},
          "encoding": {
            "x": {"field": "pos", "type": "quantitative", "scale": {"domain": [-0.05784, 1.04919], "nice": false, "zero": false}, "axis": null},
            "y": {"field": "line", "type": "quantitative", "scale": {"domain": [-0.70667, 19.77333], "reverse": true, "nice": false, "zero": false}, "axis": null},
            "text": {"field": "text"}
          }
        },
        {
          "data": {"name": "para"},
          "encoding": {
            "x": {"field": "pos", "type": "quantitative", "scale": {"domain": [-0.08361, 1.05039], "nice": false, "zero": false}, "axis": null},
            "y": {"field": "line", "type": "quantitative", "scale": {"domain": [-3.96667, 21.63333], "reverse": true, "nice": false, "zero": false}, "axis": null},
            "text": {"field": "text"},
            "color": {"field": "role", "type": "nominal", "scale": {"domain": ["body", "species", "red", "term", "marker", "bullet"], "range": ["#000000", "#000000", "#ff0000", "#990099", "#d0561f", "#d0561f"]}, "legend": null}
          },
          "layer": [
            {"transform": [{"filter": "datum.anchor == 'start' && datum.role != 'species'"}], "mark": {"type": "text", "align": "left"}},
            {"transform": [{"filter": "datum.anchor == 'middle'"}], "mark": {"type": "text", "align": "center"}},
            {"transform": [{"filter": "datum.anchor == 'end' && datum.role != 'species'"}], "mark": {"type": "text", "align": "right"}},
            {"transform": [{"filter": "datum.anchor == 'start' && datum.role == 'species'"}], "mark": {"type": "text", "align": "left", "fontStyle": "italic", "fontWeight": "bold"}},
            {"transform": [{"filter": "datum.anchor == 'end' && datum.role == 'species'"}], "mark": {"type": "text", "align": "right", "fontStyle": "italic", "fontWeight": "bold"}}
          ]
        },
        {
          "data": {"name": "expA"},
          "encoding": {
            "x": {"field": "pos", "type": "quantitative", "scale": {"domain": [-0.10878, 1.05156], "nice": false, "zero": false}, "axis": null},
            "y": {"field": "line", "type": "quantitative", "scale": {"domain": [-7.57377, 17.60656], "reverse": true, "nice": false, "zero": false}, "axis": null},
            "text": {"field": "text"},
            "color": {"field": "role", "type": "nominal", "scale": {"domain": ["body", "species", "red", "term", "marker", "bullet"], "range": ["#000000", "#000000", "#ff0000", "#990099", "#d0561f", "#d0561f"]}, "legend": null}
          },
          "layer": [
            {"transform": [{"filter": "datum.anchor == 'start'"}], "mark": {"type": "text", "align": "left"}},
            {"transform": [{"filter": "datum.anchor == 'end'"}], "mark": {"type": "text", "align": "right"}}
          ]
        },
        {
          "data": {"values": [{"shape": "figure edge"}]},
          "mark": {"type": "rect", "fill": "white", "stroke": null},
          "encoding": {
            "x": {"datum": 0.08936, "type": "quantitative", "scale": {"domain": [0, 1], "nice": false, "zero": false}, "axis": null},
            "x2": {"datum": 0.48779},
            "y": {"datum": 0.41732, "type": "quantitative", "scale": {"domain": [0, 1], "reverse": true, "nice": false, "zero": false}, "axis": null},
            "y2": {"datum": 0.42253}
          }
        },
        {
          "data": {"name": "expB"},
          "encoding": {
            "x": {"field": "pos", "type": "quantitative", "scale": {"domain": [-0.10878, 1.05156], "nice": false, "zero": false}, "axis": null},
            "y": {"field": "line", "type": "quantitative", "scale": {"domain": [-20.3128, 4.58185], "reverse": true, "nice": false, "zero": false}, "axis": null},
            "text": {"field": "text"},
            "color": {"field": "role", "type": "nominal", "scale": {"domain": ["body", "species", "red", "term", "marker", "bullet"], "range": ["#000000", "#000000", "#ff0000", "#990099", "#d0561f", "#d0561f"]}, "legend": null}
          },
          "layer": [
            {"transform": [{"filter": "datum.anchor == 'start'"}], "mark": {"type": "text", "align": "left", "clip": true}},
            {"transform": [{"filter": "datum.anchor == 'end'"}], "mark": {"type": "text", "align": "right", "clip": true}}
          ]
        }
      ],
      "resolve": {"scale": {"x": "independent", "y": "independent"}}
    }
  ]
}
